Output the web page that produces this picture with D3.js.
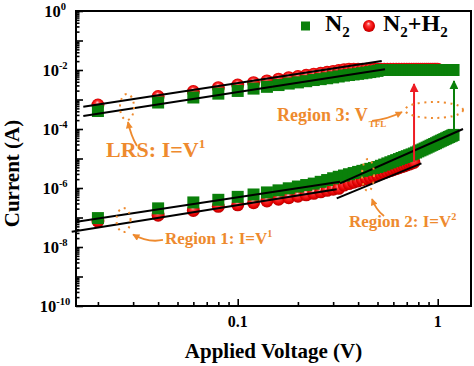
<!DOCTYPE html>
<html><head><meta charset="utf-8">
<script src="https://cdn.jsdelivr.net/npm/d3@7"></script>
<style>body{margin:0;background:#fff}svg{display:block}</style>
</head><body>
<script>
// ---------- data ----------
const voltages = [0.02,0.04,0.06,0.08,0.10,0.12,0.14,0.16,0.18,0.20,0.22,0.24,0.26,0.28,0.30,0.32,0.34,0.36,0.38,0.40,
  0.42,0.44,0.46,0.48,0.50,0.52,0.54,0.56,0.58,0.60,0.62,0.64,0.66,0.68,0.70,0.72,0.74,0.76,0.78,0.80,
  0.82,0.84,0.86,0.88,0.90,0.92,0.94,0.96,0.98,1.00,1.02,1.04,1.06,1.08,1.10,1.12,1.14,1.16,1.18,1.20];

const n2LRS = [4.07e-4,7.9e-4,1.17e-3,1.58e-3,1.95e-3,2.34e-3,2.69e-3,3.09e-3,3.47e-3,3.80e-3,
  4.17e-3,4.57e-3,4.90e-3,5.25e-3,5.62e-3,6.03e-3,6.46e-3,6.76e-3,7.08e-3,7.41e-3,
  7.76e-3,8.13e-3,8.51e-3,8.91e-3,9.33e-3,1.0e-2,1.0e-2,1.0e-2,1.0e-2,1.0e-2,
  1.0e-2,1.0e-2,1.0e-2,1.0e-2,1.0e-2,1.0e-2,1.0e-2,1.0e-2,1.0e-2,1.0e-2,
  1.0e-2,1.0e-2,1.0e-2,1.0e-2,1.0e-2,1.0e-2,1.0e-2,1.0e-2,1.0e-2,1.0e-2,
  1.0e-2,1.0e-2,1.0e-2,1.0e-2,1.0e-2,1.0e-2,1.0e-2,1.0e-2,1.0e-2,1.0e-2];

const n2HRS = [9.55e-8,2.04e-7,3.24e-7,3.98e-7,5.01e-7,6.03e-7,7.08e-7,8.32e-7,9.77e-7,1.12e-6,
  1.26e-6,1.41e-6,1.62e-6,1.86e-6,2.14e-6,2.40e-6,2.65e-6,2.93e-6,3.21e-6,3.51e-6,
  3.81e-6,4.12e-6,4.46e-6,4.78e-6,5.13e-6,5.66e-6,6.21e-6,6.82e-6,7.45e-6,8.13e-6,
  8.81e-6,9.55e-6,1.04e-5,1.12e-5,1.20e-5,1.29e-5,1.38e-5,1.48e-5,1.60e-5,1.74e-5,
  1.88e-5,2.02e-5,2.18e-5,2.34e-5,2.52e-5,2.71e-5,2.90e-5,3.10e-5,3.30e-5,3.55e-5,
  3.78e-5,4.02e-5,4.27e-5,4.53e-5,4.80e-5,5.08e-5,5.37e-5,5.68e-5,5.98e-5,6.31e-5];

const n2h2LRS = [6.46e-4,1.26e-3,1.86e-3,2.51e-3,3.09e-3,3.72e-3,4.27e-3,4.90e-3,5.50e-3,6.03e-3,
  6.61e-3,7.24e-3,7.76e-3,8.32e-3,8.91e-3,9.55e-3,1.02e-2,1.07e-2,1.07e-2,1.07e-2,
  1.07e-2,1.07e-2,1.07e-2,1.07e-2,1.07e-2,1.07e-2,1.07e-2,1.07e-2,1.07e-2,1.07e-2,
  1.07e-2,1.07e-2,1.07e-2,1.07e-2,1.07e-2,1.07e-2,1.07e-2,1.07e-2,1.07e-2,1.07e-2,
  1.07e-2,1.07e-2,1.07e-2,1.07e-2,1.07e-2,1.07e-2,1.07e-2,1.07e-2,1.07e-2,1.07e-2];

const n2h2HRS = [7.59e-8,1.20e-7,1.74e-7,2.40e-7,2.69e-7,3.16e-7,3.63e-7,4.17e-7,4.68e-7,5.25e-7,
  5.89e-7,6.61e-7,7.41e-7,8.32e-7,9.12e-7,9.77e-7,1.26e-6,1.41e-6,1.58e-6,1.74e-6,
  1.91e-6,2.09e-6,2.29e-6,2.51e-6,2.75e-6,3.02e-6,3.31e-6,3.55e-6,3.89e-6,4.17e-6,
  4.57e-6,4.90e-6,5.25e-6,5.62e-6,6.03e-6,6.46e-6,6.92e-6,7.41e-6];

// fitted power-law guide lines: [[V,I],[V,I]]
const fitLines = [
  [[0.0169,5.7e-4],[0.525,2.02e-2]],
  [[0.0169,2.75e-4],[0.545,1.06e-2]],
  [[0.01567,7.2e-8],[0.3247,1.64e-6]],
  [[0.01479,3.3e-8],[0.3126,9.0e-7]],
  [[0.3126,4.47e-7],[0.829,6.87e-6]],
  [[0.3247,1.44e-6],[1.338,1.0e-4]]
];

// set (switching) events: voltage, from current, to current
const switchRed = {V:0.7614, from:7.6e-6, to:3.35e-3};
const switchGreen = {V:1.206, from:8.55e-5, to:4.24e-3};

const xMajor = [0.1, 1];
const xMinor = [0.02,0.03,0.04,0.05,0.06,0.07,0.08,0.09,0.2,0.3,0.4,0.5,0.6,0.7,0.8,0.9];
const xLabels = ["0.1","1"];
const yLabelExp = [0,-2,-4,-6,-8,-10];
const yDecades = [0,-1,-2,-3,-4,-5,-6,-7,-8,-9,-10];

// annotation anchors (data coordinates)
const annoTexts = [
  {V:0.02196, I:1.12e-5, main:"LRS: I=V", sup:"1", size:22},
  {V:0.04329, I:1.26e-8, main:"Region 1: I=V", sup:"1", size:17},
  {V:0.3601, I:4.76e-8, main:"Region 2: I=V", sup:"2", size:17},
  {V:0.1573, I:1.94e-4, main:"Region 3: V", sub:"TFL", size:18}
];
const annoEllipses = [
  {V:0.02795, I:5.57e-4, rx:7, ry:13},
  {V:0.02685, I:8.22e-8, rx:7, ry:12},
  {V:0.4483, I:2.76e-6, rx:6, ry:16},
  {V:0.9583, I:4.41e-4, rx:29, ry:8}
];
const annoArrows = [
  {from:[0.03137,2.65e-5], ctrl:[0.02927,5.79e-5], to:[0.02828,1.73e-4]},
  {from:[0.0423,1.73e-8], ctrl:[0.0356,1.37e-8], to:[0.02996,2.65e-8]},
  {from:[0.539,1.12e-7], ctrl:[0.4914,1.80e-7], to:[0.4694,4.24e-7]},
  {from:[0.4694,1.87e-4], ctrl:[0.5643,2.18e-4], to:[0.663,3.77e-4]}
];

// ---------- chart ----------
const W=474, H=366;
const FONT = "'Liberation Serif','Times New Roman',serif";
const ORANGE = "#EE8A2E", GREEN = "#0a800a", RED = "#ee1c24";
const x = d3.scaleLog().domain([0.01554,1.467]).range([76,471]);
const y = d3.scaleLog().domain([1e-10,1]).range([306,11]);

const svg = d3.select("body").append("svg").attr("width",W).attr("height",H)
  .style("font-family",FONT).style("font-weight","bold");
const defs = svg.append("defs");
const rg = defs.append("radialGradient").attr("id","sph")
  .attr("cx","50%").attr("cy","50%").attr("r","55%").attr("fx","45%").attr("fy","28%");
[["0%","#ffd4d4"],["30%","#ff3a3a"],["75%","#e40000"],["100%","#a80000"]].forEach(s=>
  rg.append("stop").attr("offset",s[0]).attr("stop-color",s[1]));
function mk(id,color,w,h){
  defs.append("marker").attr("id",id).attr("viewBox","0 0 10 10").attr("refX",9).attr("refY",5)
    .attr("markerUnits","userSpaceOnUse").attr("markerWidth",w).attr("markerHeight",h)
    .attr("orient","auto").append("path").attr("d","M0,0L10,5L0,10Z").attr("fill",color);
}
mk("aO",ORANGE,9,7); mk("aR",RED,12,9); mk("aG",GREEN,12,9);

// markers: red first, green on top
function spheres(vals){
  svg.append("g").selectAll("circle").data(vals).join("circle")
    .attr("cx",(d,i)=>x(voltages[i])).attr("cy",d=>y(d)).attr("r",6.5).attr("fill","url(#sph)");
}
function squares(vals){
  const s=12;
  svg.append("g").selectAll("rect").data(vals).join("rect")
    .attr("x",(d,i)=>x(voltages[i])-s/2).attr("y",d=>y(d)-s/2).attr("width",s).attr("height",s).attr("fill",GREEN);
}
spheres(n2h2LRS); spheres(n2h2HRS);
squares(n2LRS); squares(n2HRS);

// fit lines
const ln = d3.line().x(d=>x(d[0])).y(d=>y(d[1]));
svg.append("g").selectAll("path").data(fitLines).join("path")
  .attr("d",ln).attr("stroke","#000").attr("stroke-width",2).attr("fill","none");

// switching arrows
[[switchRed,RED,"aR"],[switchGreen,GREEN,"aG"]].forEach(([s,c,m])=>{
  svg.append("line").attr("x1",x(s.V)).attr("x2",x(s.V)).attr("y1",y(s.from)).attr("y2",y(s.to))
    .attr("stroke",c).attr("stroke-width",2).attr("marker-end",`url(#${m})`);
});

// annotations
annoEllipses.forEach(e=>{
  svg.append("ellipse").attr("cx",x(e.V)).attr("cy",y(e.I)).attr("rx",e.rx).attr("ry",e.ry)
    .attr("fill","none").attr("stroke",ORANGE).attr("stroke-width",2).attr("stroke-dasharray","2,4.5");
});
annoArrows.forEach(a=>{
  const p=d3.path();
  p.moveTo(x(a.from[0]),y(a.from[1]));
  p.quadraticCurveTo(x(a.ctrl[0]),y(a.ctrl[1]),x(a.to[0]),y(a.to[1]));
  svg.append("path").attr("d",p.toString()).attr("fill","none").attr("stroke",ORANGE)
    .attr("stroke-width",1.8).attr("marker-end","url(#aO)");
});
annoTexts.forEach(t=>{
  const fs = t.size;
  const tx = svg.append("text").attr("x",x(t.V)).attr("y",y(t.I)).attr("fill",ORANGE).attr("font-size",fs);
  tx.append("tspan").text(t.main);
  if(t.sup){ tx.append("tspan").attr("dy",-fs*0.4).attr("font-size",fs*0.6).text(t.sup); }
  if(t.sub){ tx.append("tspan").attr("dy",6.5).attr("dx",1).attr("font-size",9).text(t.sub); }
});

// axes (ticks inward)
function styleAxis(g){ g.select(".domain").remove(); g.selectAll("line").attr("stroke","#000").attr("stroke-width",1.6); }
svg.append("g").attr("transform","translate(0,306)")
  .call(d3.axisBottom(x).tickValues(xMinor).tickSize(-4).tickFormat("")).call(styleAxis);
svg.append("g").attr("transform","translate(0,306)")
  .call(d3.axisBottom(x).tickValues(xMajor).tickSize(-7).tickFormat("")).call(styleAxis);
const yMinor=[];
yDecades.forEach(e=>{ if(e<0) for(let k=2;k<=9;k++) yMinor.push(k*Math.pow(10,e)); });
svg.append("g").attr("transform","translate(76,0)")
  .call(d3.axisLeft(y).tickValues(yMinor).tickSize(-3.5).tickFormat("")).call(styleAxis);
svg.append("g").attr("transform","translate(76,0)")
  .call(d3.axisLeft(y).tickValues(yDecades.map(e=>Math.pow(10,e))).tickSize(-7).tickFormat("")).call(styleAxis);

// frame
svg.append("rect").attr("x",76).attr("y",11).attr("width",395).attr("height",295)
  .attr("fill","none").attr("stroke","#000").attr("stroke-width",2);

// tick labels
xMajor.forEach((v,i)=>{
  svg.append("text").attr("x",x(v)).attr("y",327).attr("text-anchor","middle").attr("font-size",16).text(xLabels[i]);
});
yLabelExp.forEach(e=>{
  const t=svg.append("text").attr("x",55).attr("y",y(Math.pow(10,e))+6).attr("text-anchor","middle").attr("font-size",16.5);
  t.append("tspan").text("10");
  t.append("tspan").attr("dy",-7).attr("font-size",10.5).text(e===0?"0":String(e));
});

// titles
svg.append("text").attr("x",273.5).attr("y",358).attr("text-anchor","middle").attr("font-size",21).text("Applied Voltage (V)");
svg.append("text").attr("transform","translate(18.5,173.5) rotate(-90)").attr("text-anchor","middle").attr("font-size",21).text("Current (A)");

// legend
const lg = svg.append("g");
lg.append("rect").attr("x",301).attr("y",21.5).attr("width",9).attr("height",9).attr("fill",GREEN);
const l1=lg.append("text").attr("x",325).attr("y",31).attr("font-size",24);
l1.append("tspan").text("N"); l1.append("tspan").attr("dy",6).attr("font-size",15).text("2");
lg.append("circle").attr("cx",369).attr("cy",26).attr("r",6).attr("fill","url(#sph)");
const l2=lg.append("text").attr("x",383).attr("y",31).attr("font-size",24);
l2.append("tspan").text("N"); l2.append("tspan").attr("dy",6).attr("font-size",15).text("2");
l2.append("tspan").attr("dy",-6).text("+H"); l2.append("tspan").attr("dy",6).attr("font-size",15).text("2");
</script>
</body></html>
